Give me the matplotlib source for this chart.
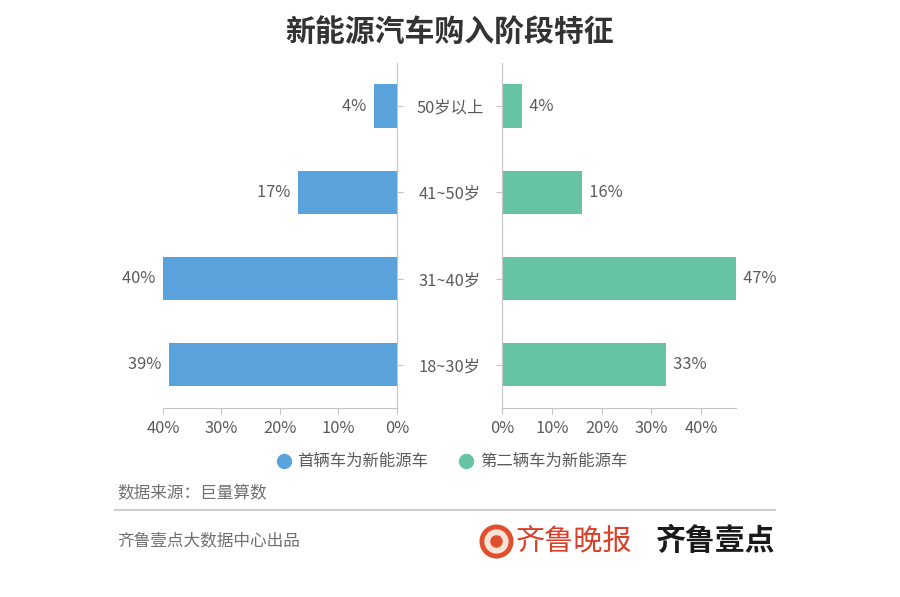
import numpy as np
import matplotlib.pyplot as plt

plt.rcParams['font.family'] = ['Noto Sans CJK SC', 'DejaVu Sans']

ages = ["18~30岁", "31~40岁", "41~50岁", "50岁以上"]
first_car = [39, 40, 17, 4]
second_car = [33, 47, 16, 4]
x_ticks = [0, 10, 20, 30, 40]
legend_names = ["首辆车为新能源车", "第二辆车为新能源车"]

blue = "#5aa2db"
green = "#66c4a4"
grey = "#5b5b5b"
spine_c = "#c4c4c4"
fs = 11.8

fig = plt.figure(figsize=(9, 5.97), dpi=100)
fig.patch.set_facecolor("white")

ax_l = fig.add_axes([0.1811, 0.3166, 0.26, 0.578])
ax_r = fig.add_axes([0.5578, 0.3166, 0.26, 0.578])

y = np.arange(len(ages))

ax_l.barh(y, first_car, height=0.5, color=blue)
ax_l.set_xlim(40, 0)
for yi, v in zip(y, first_car):
    ax_l.text(v, yi, f"{v}%  ", ha="right", va="center", fontsize=fs, color=grey)

ax_r.barh(y, second_car, height=0.5, color=green)
ax_r.set_xlim(0, 47)
for yi, v in zip(y, second_car):
    ax_r.text(v, yi, f"  {v}%", ha="left", va="center", fontsize=fs, color=grey)

for ax in (ax_l, ax_r):
    ax.set_ylim(-0.5, 3.5)
    ax.set_xticks(x_ticks)
    ax.set_xticklabels([f"{t}%" for t in x_ticks], fontsize=fs, color=grey)
    ax.tick_params(axis="x", colors=spine_c, labelcolor=grey, length=4, pad=5)
    ax.spines["top"].set_visible(False)
    ax.spines["bottom"].set_color(spine_c)
    ax.set_yticks(y)

ax_l.spines["left"].set_visible(False)
ax_l.spines["right"].set_color(spine_c)
ax_l.yaxis.tick_right()
ax_l.set_yticklabels(ages, fontsize=fs, color=grey)
ax_l.tick_params(axis="y", colors=spine_c, labelcolor=grey, length=4, pad=34)
for lbl in ax_l.get_yticklabels():
    lbl.set_horizontalalignment("center")
    lbl.set_verticalalignment("center_baseline")

ax_r.spines["right"].set_visible(False)
ax_r.spines["left"].set_color(spine_c)
ax_r.set_yticklabels([])
ax_r.tick_params(axis="y", colors=spine_c, length=4)

fig.text(0.5, 1 - 33 / 597, "新能源汽车购入阶段特征", ha="center", va="center",
         fontsize=21.5, fontweight="bold", color="#333333")

# legend
ly = 1 - 461 / 597
fig.text(297 / 900, ly, legend_names[0], ha="left", va="center", fontsize=fs, color=grey)
fig.text(480 / 900, ly, legend_names[1], ha="left", va="center", fontsize=fs, color=grey)
fig.add_artist(plt.Line2D([284 / 900], [ly], marker="o", markersize=10,
                          color=blue, transform=fig.transFigure))
fig.add_artist(plt.Line2D([466 / 900], [ly], marker="o", markersize=10,
                          color=green, transform=fig.transFigure))

fig.text(117 / 900, 1 - 494 / 597, "数据来源：巨量算数", ha="left", va="center", fontsize=12, color="#707070")
fig.add_artist(plt.Line2D([115 / 900, 775 / 900], [1 - 510 / 597, 1 - 510 / 597],
                          color="#cfcfcf", lw=1.5, transform=fig.transFigure))
fig.text(117 / 900, 1 - 541 / 597, "齐鲁壹点大数据中心出品", ha="left", va="center", fontsize=12, color="#707070")

# logos as text
logo_y = 1 - 541 / 597
fig.add_artist(plt.Line2D([496 / 900], [logo_y], marker="o", markersize=21, markerfacecolor="#fbe3d6",
                          markeredgecolor="#e0502e", markeredgewidth=3.5, transform=fig.transFigure))
fig.add_artist(plt.Line2D([496 / 900], [logo_y], marker="o", markersize=8, markerfacecolor="#e0502e",
                          markeredgecolor="#e0502e", transform=fig.transFigure))
fig.text(516 / 900, logo_y, "齐鲁晚报", ha="left", va="center", fontsize=21,
         color="#d9402a", style="italic")
fig.text(655 / 900, logo_y, "齐鲁壹点", ha="left", va="center", fontsize=21.5,
         color="#1a1a1a", fontweight="bold")

fig.savefig("out.png", dpi=100, facecolor="white")
